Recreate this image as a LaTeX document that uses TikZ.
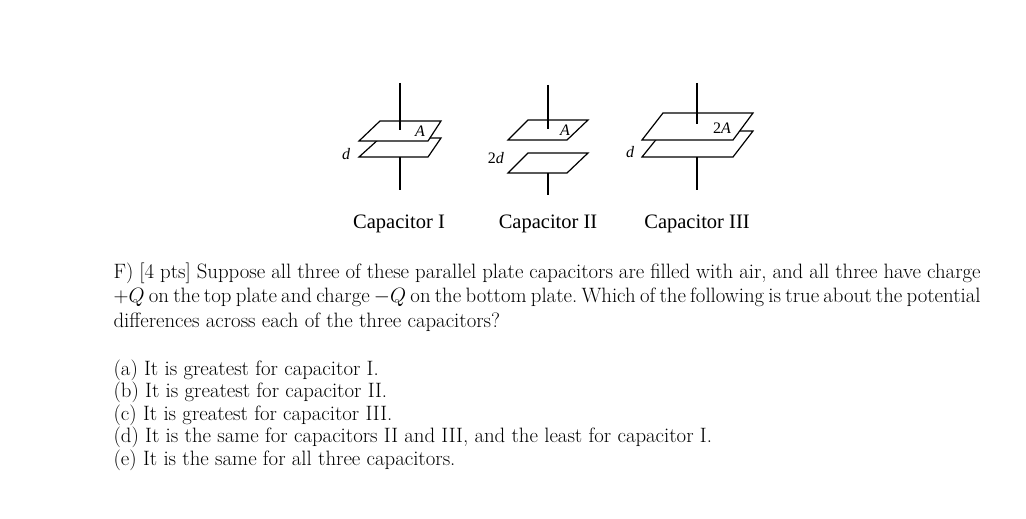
\documentclass[tikz,border=0pt]{standalone}
\usepackage{fontspec}
\newfontfamily\tms{Liberation Serif}
\begin{document}
\frenchspacing
\begin{tikzpicture}[x=1pt,y=-1pt,line width=1.2pt,
  plate/.style={draw,fill=white,line join=miter},
  captxt/.style={font=\tms\fontsize{20.5}{22}\selectfont},
  lab/.style={font=\tms\itshape\fontsize{16}{18}\selectfont,inner sep=0pt},
  txt/.style={anchor=base west,inner sep=0pt,font=\fontsize{20.8}{24}\selectfont}]
\useasboundingbox (0,0) rectangle (1026,519);
% Capacitor I
\draw[plate] (359,157) -- (380,138) -- (441,138) -- (428,157) -- cycle;
\draw[plate] (359,141) -- (380,121) -- (441,121) -- (428,141) -- cycle;
\coordinate (t1) at (400,83); \coordinate (c1) at (400,130);
\coordinate (b1) at (400,157); \coordinate (e1) at (400,190);
\draw (t1) -- (c1); \draw (b1) -- (e1);
\node[lab] (d1) at (346,154) {d};
\node[lab] (A1) at (420,131) {A};
% Capacitor II
\draw[plate] (508,173) -- (528,153) -- (588,153) -- (567,173) -- cycle;
\draw[plate] (508,140) -- (528,120) -- (588,120) -- (567,140) -- cycle;
\coordinate (t2) at (548,85); \coordinate (c2) at (548,129);
\coordinate (b2) at (548,173); \coordinate (e2) at (548,195);
\draw (t2) -- (c2); \draw (b2) -- (e2);
\node[lab,font=\tms\fontsize{16}{18}\selectfont] (d2) at (496,158) {2\textit{d}};
\node[lab] (A2) at (565,130) {A};
% Capacitor III
\draw[plate] (642,157) -- (663,131) -- (753,131) -- (733,157) -- cycle;
\draw[plate] (642,140) -- (663,113) -- (753,113) -- (733,140) -- cycle;
\coordinate (t3) at (697,83); \coordinate (c3) at (697,124);
\coordinate (b3) at (697,157); \coordinate (e3) at (697,190);
\draw (t3) -- (c3); \draw (b3) -- (e3);
\node[lab] (d3) at (630,152) {d};
\node[lab,font=\tms\fontsize{16}{18}\selectfont] (A3) at (722,128) {2\textit{A}};
% captions
\node[captxt] (n1) at (399,224) {Capacitor I};
\node[captxt] (n2) at (548,224) {Capacitor II};
\node[captxt] (n3) at (697,224) {Capacitor III};
% text
\node[txt] (l1) at (113,278) {\makebox[867pt][s]{F) [4 pts] Suppose all three of these parallel plate capacitors are filled with air, and all three have charge}};
\node[txt] (l2) at (113,302.5) {\makebox[867pt][s]{$+Q$ on the top plate and charge $-Q$ on the bottom plate. Which of the following is true about the potential}};
\node[txt] (l3) at (113,327) {differences across each of the three capacitors?};
\node[txt] (o1) at (113,375) {(a) It is greatest for capacitor I.};
\node[txt] (o2) at (113,397.5) {(b) It is greatest for capacitor II.};
\node[txt] (o3) at (113,420) {(c) It is greatest for capacitor III.};
\node[txt] (o4) at (113,442.5) {(d) It is the same for capacitors II and III, and the least for capacitor I.};
\node[txt] (o5) at (113,465) {(e) It is the same for all three capacitors.};
\end{tikzpicture}
\end{document}
